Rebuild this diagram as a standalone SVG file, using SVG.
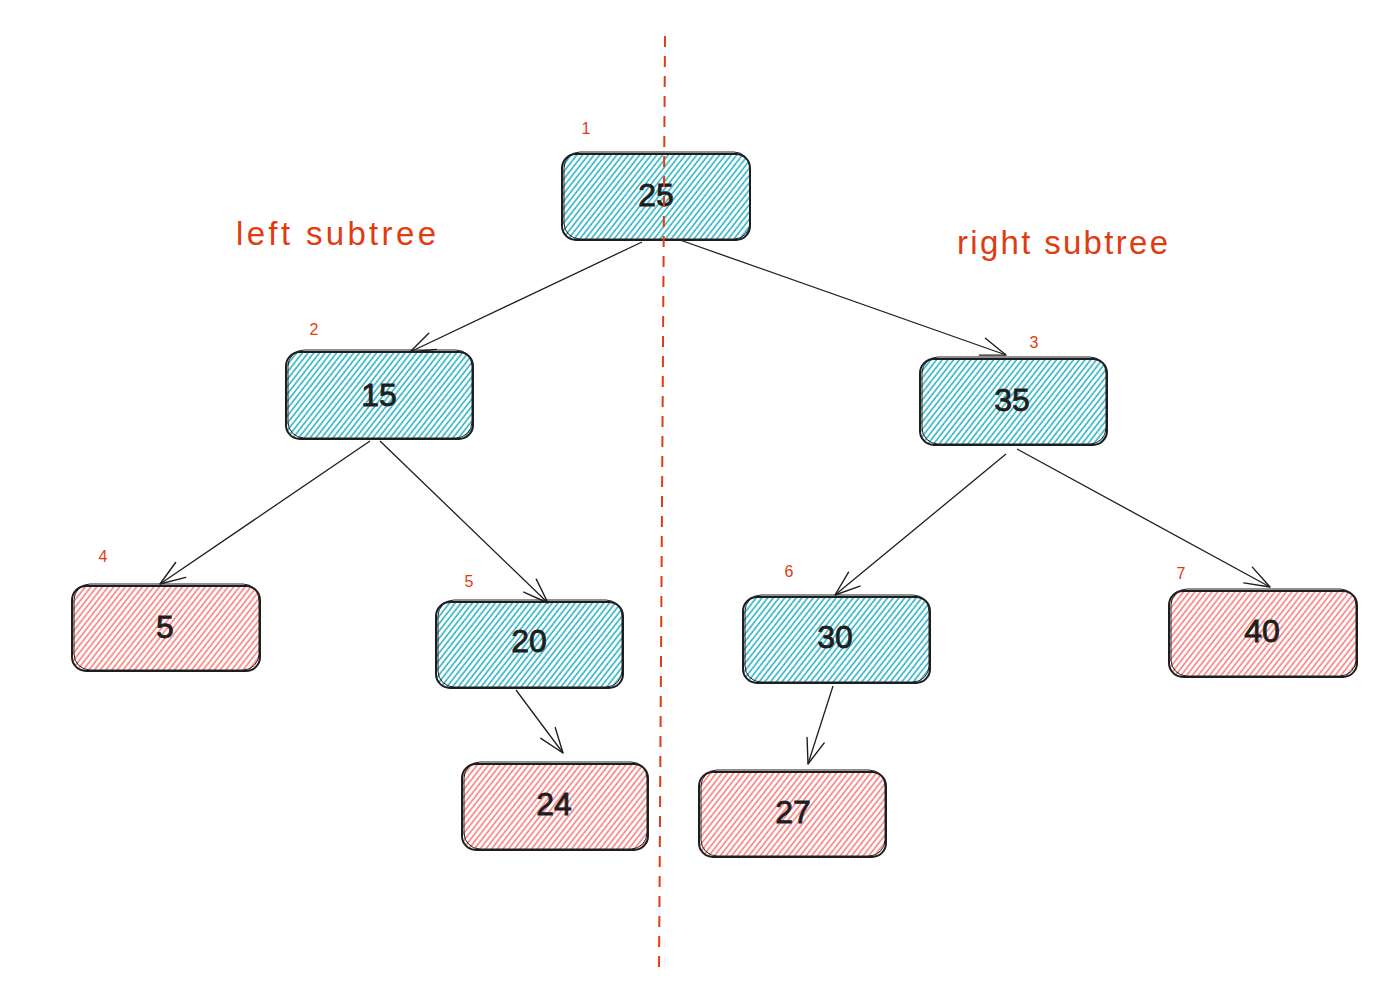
<svg xmlns="http://www.w3.org/2000/svg" width="1400" height="982" viewBox="0 0 1400 982">
<defs>
<pattern id="hb" width="4.5" height="4.5" patternUnits="userSpaceOnUse" patternTransform="rotate(38)">
<line x1="1" y1="0" x2="1" y2="4.5" stroke="#15aabf" stroke-width="1.4"/>
</pattern>
<pattern id="hr" width="4.5" height="4.5" patternUnits="userSpaceOnUse" patternTransform="rotate(38)">
<line x1="1" y1="0" x2="1" y2="4.5" stroke="#fa6464" stroke-width="1.3"/>
</pattern>
<marker id="ah" markerWidth="40" markerHeight="40" refX="0" refY="0" orient="auto" markerUnits="userSpaceOnUse" overflow="visible">
<path d="M-25,-9 L0,0 L-25,9" fill="none" stroke="#1e1e1e" stroke-width="1.4" stroke-linecap="round" stroke-linejoin="round"/>
</marker>
</defs>
<style>
.box{stroke:#1e1e1e;stroke-width:2;}
.box2{fill:none;stroke:#1e1e1e;stroke-width:1;}
.blue{fill:url(#hb);}
.red{fill:url(#hr);}
.num{font-family:"Liberation Sans",Arial,sans-serif;font-size:32px;fill:#1e1e1e;stroke:#1e1e1e;stroke-width:0.8;text-anchor:middle;dominant-baseline:central;}
.idx{font-family:"Liberation Sans",Arial,sans-serif;font-size:16px;fill:#e03c0f;text-anchor:middle;dominant-baseline:central;}
.lbl{font-family:"Liberation Sans",Arial,sans-serif;font-size:33px;fill:#e03c0f;dominant-baseline:central;}
.edge{stroke:#1e1e1e;stroke-width:1.3;fill:none;marker-end:url(#ah);}
</style>
<rect width="1400" height="982" fill="#ffffff"/>

<g id="connectors">
<line class="edge" x1="642" y1="242" x2="410" y2="352"/>
<line class="edge" x1="680" y1="240" x2="1006" y2="355"/>
<line class="edge" x1="370" y1="441" x2="160" y2="584"/>
<line class="edge" x1="380" y1="441" x2="548" y2="603"/>
<line class="edge" x1="1006" y1="454" x2="835" y2="595"/>
<line class="edge" x1="1017" y1="449" x2="1270" y2="587"/>
<line class="edge" x1="516" y1="690" x2="563" y2="753"/>
<line class="edge" x1="833" y1="686" x2="808" y2="764"/>
</g>

<g id="node-25">
<rect class="box blue" x="562" y="154" width="188" height="86" rx="14"/>
<rect class="box2" x="564" y="152" width="186" height="87" rx="16"/>
<text class="num" x="656" y="195">25</text>
<text class="idx" x="586" y="128">1</text>
</g>
<g id="node-15">
<rect class="box blue" x="286" y="352" width="187" height="87" rx="14"/>
<rect class="box2" x="288" y="350" width="184" height="88" rx="16"/>
<text class="num" x="379" y="395">15</text>
<text class="idx" x="314" y="329">2</text>
</g>
<g id="node-35">
<rect class="box blue" x="920" y="359" width="187" height="86" rx="14"/>
<rect class="box2" x="922" y="357" width="184" height="87" rx="16"/>
<text class="num" x="1012" y="400">35</text>
<text class="idx" x="1034" y="342">3</text>
</g>
<g id="node-5">
<rect class="box red" x="72" y="586" width="188" height="85" rx="14"/>
<rect class="box2" x="74" y="584" width="185" height="86" rx="16"/>
<text class="num" x="165" y="627">5</text>
<text class="idx" x="103" y="556">4</text>
</g>
<g id="node-20">
<rect class="box blue" x="436" y="602" width="187" height="86" rx="14"/>
<rect class="box2" x="438" y="600" width="184" height="87" rx="16"/>
<text class="num" x="529" y="641">20</text>
<text class="idx" x="469" y="581">5</text>
</g>
<g id="node-30">
<rect class="box blue" x="743" y="597" width="187" height="86" rx="14"/>
<rect class="box2" x="745" y="595" width="184" height="87" rx="16"/>
<text class="num" x="835" y="637">30</text>
<text class="idx" x="789" y="571">6</text>
</g>
<g id="node-40">
<rect class="box red" x="1169" y="591" width="188" height="86" rx="14"/>
<rect class="box2" x="1171" y="589" width="185" height="87" rx="16"/>
<text class="num" x="1262" y="631">40</text>
<text class="idx" x="1181" y="573">7</text>
</g>
<g id="node-24">
<rect class="box red" x="462" y="764" width="186" height="86" rx="14"/>
<rect class="box2" x="464" y="762" width="183" height="87" rx="16"/>
<text class="num" x="554" y="804">24</text>
</g>
<g id="node-27">
<rect class="box red" x="699" y="772" width="187" height="85" rx="14"/>
<rect class="box2" x="701" y="770" width="184" height="86" rx="16"/>
<text class="num" x="793" y="812">27</text>
</g>

<g id="divider">
<line x1="665" y1="36" x2="659" y2="974" stroke="#e03c0f" stroke-width="2" stroke-dasharray="11 9"/>
</g>
<g id="labels">
<text class="lbl" x="236" y="233" textLength="200" lengthAdjust="spacing">left subtree</text>
<text class="lbl" x="957" y="242" textLength="211" lengthAdjust="spacing">right subtree</text>
</g>
</svg>
